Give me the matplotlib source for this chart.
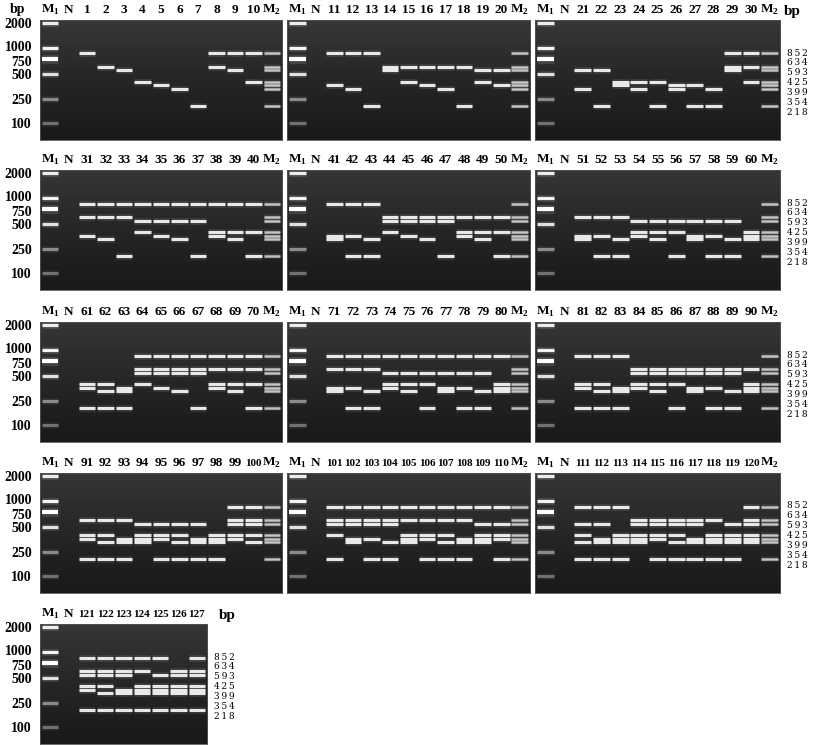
import numpy as np
import matplotlib.pyplot as plt
from matplotlib.colors import LinearSegmentedColormap
from matplotlib.ticker import NullLocator
from matplotlib.transforms import offset_copy

# fragment sizes (bp) that can show up in a sample lane, M2 carries all of them
band_sizes = [852, 634, 593, 425, 399, 354, 218]
# DNA ladder in lane M1
ladder_m1 = [2000, 1000, 750, 500, 250, 100]
ladder_m1_alpha = [0.9, 0.95, 1.0, 0.85, 0.45, 0.35]
# ladder labels left of the gel; 1000 and 750 sit so close they share one stacked label
ladder_label_groups = [[2000], [1000, 750], [500], [250], [100]]

# bands found in each sample lane, digits index band_sizes (1 = 852 ... 7 = 218)
lanes_1_10 = ["1", "2", "3", "4", "5", "6", "7", "12", "13", "14"]
lanes_11_20 = ["15", "16", "17", "23", "24", "25", "26", "27", "34", "35"]
lanes_21_30 = ["36", "37", "45", "46", "47", "56", "57", "67", "123", "124"]
lanes_31_40 = ["125", "126", "127", "134", "135", "136", "137", "145", "146", "147"]
lanes_41_50 = ["156", "157", "167", "234", "235", "236", "237", "245", "246", "247"]
lanes_51_60 = ["256", "257", "267", "345", "346", "347", "356", "357", "367", "456"]
lanes_61_70 = ["457", "467", "567", "1234", "1235", "1236", "1237", "1245", "1246", "1247"]
lanes_71_80 = ["1256", "1257", "1267", "1345", "1346", "1347", "1356", "1357", "1367", "1456"]
lanes_81_90 = ["1457", "1467", "1567", "2345", "2346", "2347", "2356", "2357", "2367", "2456"]
lanes_91_100 = ["2457", "2467", "2567", "3456", "3457", "3467", "3567", "4567", "12345", "12346"]
lanes_101_110 = ["12347", "12356", "12357", "12367", "12456", "12457", "12467", "12567",
                 "13456", "13457"]
lanes_111_120 = ["13467", "13567", "14567", "23456", "23457", "23467", "23567", "24567",
                 "34567", "123456"]
lanes_121_127 = ["123457", "123467", "123567", "124567", "134567", "234567", "1234567"]

# gel migration: where a fragment ends up, px down from the top of a 120 px panel
calib_bp = np.array([3000, 2000, 1000, 852, 750, 634, 593, 500, 425, 399, 354, 250, 218, 100, 40])
calib_px = np.array([-12, 3, 28, 33.5, 39, 47, 50.5, 54, 62, 65.5, 69, 79, 86, 103, 130])
# size labels right of the gel, stacked in blocks (first band index, count, centre px)
label_groups = [(0, 1, 33), (1, 6, 67.5)]

W, H = 813, 745
PANEL_H = 120

log_bp = np.log10(calib_bp)[::-1]
neg_px = -calib_px[::-1]


def fwd(y):
  y = np.clip(np.asarray(y, dtype=float), 1e-3, None)
  return np.interp(np.log10(y), log_bp, neg_px)


def inv(v):
  return 10 ** np.interp(v, neg_px, log_bp)


bg_cmap = LinearSegmentedColormap.from_list("gel", ["#191919", "#262626", "#363636"])


def add_panel(fig, left, top, width, first, codes, with_m2, left_ticks, right_labels):
  ax = fig.add_axes([left / W, 1 - (top + PANEL_H) / H, width / W, PANEL_H / H])
  ax.set_yscale("function", functions=(fwd, inv))
  ax.imshow(np.linspace(0, 1, 60).reshape(-1, 1), cmap=bg_cmap, aspect="auto",
            extent=[0, 1, 0, 1], transform=ax.transAxes, zorder=0, origin="lower")

  labels = ["M$_\\mathregular{1}$", "N"]
  labels += [str(first + i) for i in range(len(codes))]
  if with_m2:
    labels.append("M$_\\mathregular{2}$")
  n = len(labels)

  # M1 ladder
  for bp, a in zip(ladder_m1, ladder_m1_alpha):
    lw = 3.0 if bp == 750 else 2.3
    ax.hlines(bp, -0.45, 0.45, colors="white", lw=lw * 2.2, alpha=a * 0.12, zorder=2)
    ax.hlines(bp, -0.45, 0.45, colors="white", lw=lw, alpha=a, zorder=3)

  # samples
  for i, code in enumerate(codes):
    x = i + 2
    bands = [band_sizes[int(c) - 1] for c in code]
    ax.hlines(bands, x - 0.45, x + 0.45, colors="white", lw=4.8, alpha=0.1, zorder=2)
    ax.hlines(bands, x - 0.45, x + 0.45, colors="#f6f6f6", lw=2.2, alpha=0.93, zorder=3)

  if with_m2:
    x = n - 1
    ax.hlines(band_sizes, x - 0.45, x + 0.45, colors="white", lw=4.0, alpha=0.08, zorder=2)
    ax.hlines(band_sizes, x - 0.45, x + 0.45, colors="#dddddd", lw=1.8, alpha=0.85, zorder=3)

  ax.set_xlim(-0.55, n - 1 + 0.55)
  ax.set_ylim(inv(-PANEL_H), inv(0))
  ax.set_xticks([])
  ax.set_yticks([])
  ax.yaxis.set_minor_locator(NullLocator())
  if left_ticks:
    yt = offset_copy(ax.get_yaxis_transform(), fig=fig, y=-1.5, units="dots")
    for group in ladder_label_groups:
      y = inv(np.mean(fwd(group)))
      ax.text(-8 / width, y, "\n".join(str(v) for v in group), transform=yt, ha="right",
              va="center", fontsize=10, fontweight="bold", linespacing=1.12)
  for s in ax.spines.values():
    s.set_color("#555555")
    s.set_linewidth(0.6)

  for i, lab in enumerate(labels):
    fs = 8.0 if len(lab) >= 3 and lab[0] != "M" else 9.5
    ax.text(i, 1.08, lab, transform=ax.get_xaxis_transform(), ha="center", va="center",
            fontsize=fs, fontweight="bold")

  if right_labels:
    for start, count, py in label_groups:
      txt = "\n".join("\u2009".join(str(bp)) for bp in band_sizes[start:start + count])
      ax.text(1 + 7 / width, 1 - py / PANEL_H, txt, transform=ax.transAxes,
              ha="left", va="center", fontsize=6.5, family="DejaVu Serif", linespacing=1.17)
  return ax


def main():
  plt.rcParams["font.family"] = ["Liberation Serif", "DejaVu Serif"]
  fig = plt.figure(figsize=(W / 100, H / 100), dpi=100)

  rows = [
    [(1, lanes_1_10), (11, lanes_11_20), (21, lanes_21_30)],
    [(31, lanes_31_40), (41, lanes_41_50), (51, lanes_51_60)],
    [(61, lanes_61_70), (71, lanes_71_80), (81, lanes_81_90)],
    [(91, lanes_91_100), (101, lanes_101_110), (111, lanes_111_120)],
  ]
  row_tops = [20, 170, 322, 473, 624]
  panel_lefts = [40, 287, 535]
  panel_ws = [242, 243, 245]

  for r, row in enumerate(rows):
    for p, (first, codes) in enumerate(row):
      add_panel(fig, panel_lefts[p], row_tops[r], panel_ws[p], first, codes,
                True, p == 0, p == 2)

  add_panel(fig, 40, row_tops[4], 167, 121, lanes_121_127, False, True, True)

  fig.text(18 / W, 1 - 13.5 / H, "bp", fontsize=10, fontweight="bold", ha="center", va="baseline")
  fig.text(792 / W, 1 - 12 / H, "bp", fontsize=11, fontweight="bold", ha="center", va="center")
  fig.text(227 / W, 1 - 615 / H, "bp", fontsize=11, fontweight="bold", ha="center", va="center")

  fig.savefig("out.png", dpi=100, facecolor="white")


if __name__ == "__main__":
  main()
